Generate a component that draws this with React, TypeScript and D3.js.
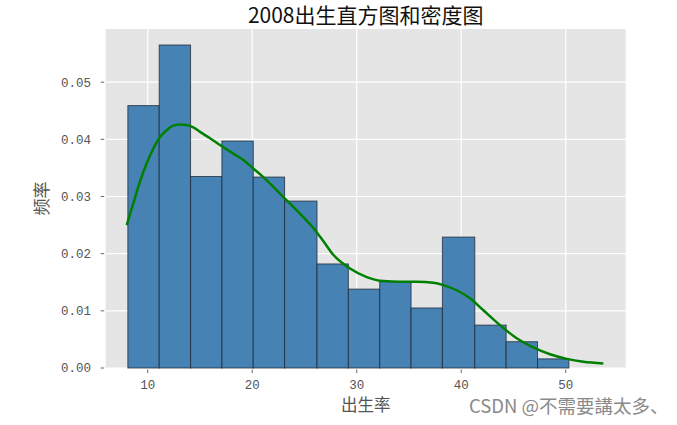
import React from "react";
import * as d3 from "d3";

const binEdges = [8.1, 11.1, 14.1, 17.1, 20.1, 23.1, 26.2, 29.2, 32.2, 35.2, 38.2, 41.3, 44.3, 47.3, 50.3];
const binDensity = [0.0459, 0.0565, 0.0335, 0.0397, 0.0334, 0.0292, 0.0182, 0.0138, 0.0151, 0.0105, 0.0229, 0.0075, 0.0046, 0.0016];

const kdeX = [7.99, 8.62, 9.26, 9.9, 10.54, 11.18, 11.82, 12.45, 13.09, 13.73, 14.36, 15.0, 15.96, 16.91, 18.19, 19.15, 20.1, 21.06, 22.02, 22.98, 23.93, 24.89, 25.85, 26.8, 27.76, 29.36, 30.96, 32.55, 34.14, 35.74, 37.33, 38.28, 39.57, 40.84, 42.12, 43.71, 45.31, 46.9, 48.5, 50.1, 51.69, 53.6];
const kdeY = [0.025, 0.0288, 0.0326, 0.0358, 0.0384, 0.0404, 0.0416, 0.0424, 0.0426, 0.0425, 0.0421, 0.0413, 0.0402, 0.039, 0.0375, 0.0364, 0.0349, 0.0334, 0.0317, 0.0299, 0.0282, 0.0264, 0.0245, 0.0222, 0.0198, 0.0174, 0.0159, 0.0152, 0.0151, 0.0151, 0.0149, 0.0145, 0.0136, 0.0122, 0.0101, 0.0075, 0.0052, 0.0036, 0.0024, 0.0016, 0.0011, 0.0008];

const xTicks = [10, 20, 30, 40, 50];
const yTicks = [0, 0.01, 0.02, 0.03, 0.04, 0.05];
const yTickLabels = ["0.00", "0.01", "0.02", "0.03", "0.04", "0.05"];

const title = "2008出生直方图和密度图";
const xLabel = "出生率";
const yLabel = "频率";
const watermark = "CSDN @不需要講太多、";

const W = 677;
const H = 425;
const left = 105.7;
const right = 625.7;
const top = 29;
const bottom = 368;

export default function App() {
  const x = d3.scaleLinear().domain([5.98, 55.74]).range([left, right]);
  const y = d3.scaleLinear().domain([0, 0.0593]).range([bottom, top]);
  const pts: [number, number][] = kdeX.map((v, i) => [v, kdeY[i]]);
  const line = d3
    .line<[number, number]>()
    .x((d) => x(d[0]))
    .y((d) => y(d[1]))
    .curve(d3.curveMonotoneX);
  const cjk = "'Noto Sans CJK SC', 'Noto Sans', sans-serif";
  const mono = "'Liberation Mono', 'DejaVu Sans Mono', monospace";
  return (
    <svg width={W} height={H} style={{ position: "absolute", left: 0, top: 0, background: "#fff" }}>
      <rect x={left} y={top} width={right - left} height={bottom - top} fill="#E5E5E5" />
      {xTicks.map((t) => (
        <line key={"gx" + t} x1={x(t)} x2={x(t)} y1={top} y2={bottom} stroke="#fff" strokeWidth={1.2} />
      ))}
      {yTicks.map((t) => (
        <line key={"gy" + t} x1={left} x2={right} y1={y(t)} y2={y(t)} stroke="#fff" strokeWidth={1.2} />
      ))}
      {binDensity.map((dv, i) => (
        <rect
          key={"b" + i}
          x={x(binEdges[i])}
          y={y(dv)}
          width={x(binEdges[i + 1]) - x(binEdges[i])}
          height={y(0) - y(dv)}
          fill="#4682B4"
          stroke="#1c2630"
          strokeOpacity={0.75}
          strokeWidth={1}
        />
      ))}
      <path d={line(pts) || ""} fill="none" stroke="#008000" strokeWidth={2.5} />
      {xTicks.map((t) => (
        <g key={"tx" + t}>
          <line x1={x(t)} x2={x(t)} y1={bottom + 1.5} y2={bottom + 5} stroke="#555" strokeWidth={0.9} />
          <text x={x(t)} y={388.5} textAnchor="middle" fontFamily={mono} fontSize={12.5} fill="#555">
            {t}
          </text>
        </g>
      ))}
      {yTicks.map((t, i) => (
        <g key={"ty" + t}>
          <line x1={left - 5} x2={left - 1.5} y1={y(t)} y2={y(t)} stroke="#555" strokeWidth={0.9} />
          <text x={91} y={y(t)} dy="0.35em" textAnchor="end" fontFamily={mono} fontSize={12.5} fill="#555">
            {yTickLabels[i]}
          </text>
        </g>
      ))}
      <text x={(left + right) / 2} y={23} textAnchor="middle" fontFamily={cjk} fontSize={21} fill="#111">
        {title}
      </text>
      <text x={(left + right) / 2} y={411} textAnchor="middle" fontFamily={cjk} fontSize={16.5} fill="#555">
        {xLabel}
      </text>
      <text
        transform={`translate(48, ${(top + bottom) / 2}) rotate(-90)`}
        textAnchor="middle"
        fontFamily={cjk}
        fontSize={17}
        fill="#555"
      >
        {yLabel}
      </text>
      <text x={469} y={413} fontFamily={cjk} fontSize={18.5} fill="#8a8a8a">
        {watermark}
      </text>
    </svg>
  );
}
